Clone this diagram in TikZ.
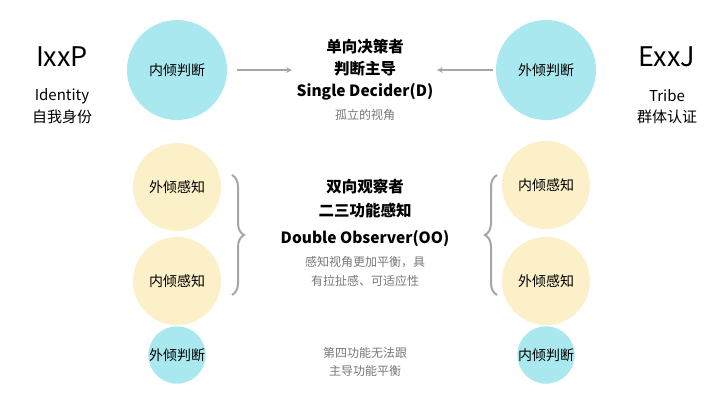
\documentclass[tikz,border=0pt]{standalone}
\usepackage{fontspec}
\setmainfont{Noto Sans CJK SC}
\usetikzlibrary{decorations.pathreplacing}
\definecolor{cy}{HTML}{A9E8EE}
\definecolor{ye}{HTML}{FCF0C8}
\definecolor{gr}{HTML}{777777}
\begin{document}
\begin{tikzpicture}[x=1pt,y=-1pt,
 cyc/.style={circle,fill=cy,inner sep=0,minimum size=#1},
 yec/.style={circle,fill=ye,inner sep=0,minimum size=#1},
 lbl/.style={font=\fontsize{14}{16}\selectfont,text=black},
 big/.style={font=\fontsize{27}{30}\selectfont},
 sub/.style={font=\fontsize{15}{17}\selectfont},
 ct/.style={font=\fontsize{15.5}{17}\selectfont\bfseries},
 gt/.style={font=\fontsize{12}{14}\selectfont,text=gr},
 arr/.style={->,draw=gray!70,line width=1.5pt,>=stealth},
 br/.style={draw=gray!70,line width=2pt,decorate,decoration={brace,amplitude=12pt}}]
\useasboundingbox (0,0) rectangle (720,405);
\node[cyc=100pt,lbl] (a1) at (177,70) {内倾判断};
\node[cyc=100pt,lbl] (b1) at (546,70) {外倾判断};
\node[yec=88pt,lbl] (a2) at (177,187) {外倾感知};
\node[yec=88pt,lbl] (a3) at (177,281) {内倾感知};
\node[yec=88pt,lbl] (b2) at (546,185) {内倾感知};
\node[yec=88pt,lbl] (b3) at (546,281) {外倾感知};
\node[cyc=44pt,lbl] (a4) at (177,355) {外倾判断};
\node[cyc=44pt,lbl] (b4) at (546,355) {内倾判断};
\node[big] (t1) at (62,57) {IxxP};
\node[sub] (t2) at (62,96) {Identity};
\node[sub] (t3) at (62,117) {自我身份};
\node[big] (u1) at (667,57) {ExxJ};
\node[sub] (u2) at (667,96) {Tribe};
\node[sub] (u3) at (667,117) {群体认证};
\node[ct] (c1) at (365,47) {单向决策者};
\node[ct] (c2) at (365,69) {判断主导};
\node[ct] (c3) at (365,92) {Single Decider(D)};
\node[gt] (c4) at (365,115) {孤立的视角};
\node[ct] (d1) at (365,187) {双向观察者};
\node[ct] (d2) at (365,211) {二三功能感知};
\node[ct] (d3) at (365,239) {Double Observer(OO)};
\node[gt] (d4) at (365,262) {感知视角更加平衡，具};
\node[gt] (d5) at (365,281) {有拉扯感、可适应性};
\node[gt] (e1) at (365,353) {第四功能无法跟};
\node[gt] (e2) at (365,371) {主导功能平衡};
\coordinate (p1) at (237,70); \coordinate (p2) at (292,70);
\coordinate (q1) at (493,70); \coordinate (q2) at (437,70);
\draw[arr] (p1) -- (p2);
\draw[arr] (q1) -- (q2);
\coordinate (l1) at (232,175); \coordinate (l2) at (232,295);
\coordinate (r1) at (497,295); \coordinate (r2) at (497,175);
\draw[br] (l1) -- (l2);
\draw[br] (r1) -- (r2);
\end{tikzpicture}
\end{document}
